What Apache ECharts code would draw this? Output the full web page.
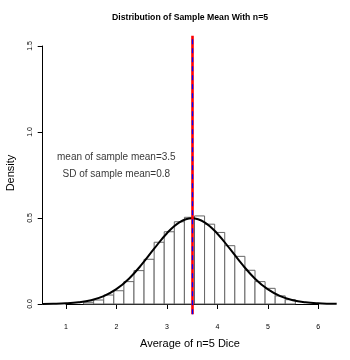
<!DOCTYPE html>
<html>
<head>
<meta charset="utf-8">
<script src="https://cdn.jsdelivr.net/npm/echarts@6/dist/echarts.min.js"></script>
<style>html,body{margin:0;padding:0;background:#fff}#c{width:350px;height:360px}</style>
</head>
<body>
<div id="c"></div>
<script>
// ---- data ----
const binLefts = [1.35,1.55,1.75,1.95,2.15,2.35,2.55,2.75,2.95,3.15,3.35,3.55,3.75,3.95,4.15,4.35,4.55,4.75,4.95,5.15,5.35];
const binWidth = 0.2;
const densities = [0.010,0.023,0.052,0.077,0.130,0.194,0.260,0.359,0.420,0.478,0.504,0.512,0.464,0.416,0.339,0.277,0.196,0.130,0.091,0.047,0.025];
const curveX = [0.54,0.75,1.0,1.25,1.5,1.75,2.0,2.25,2.5,2.75,3.0,3.25,3.5,3.75,4.0,4.25,4.5,4.75,5.0,5.25,5.5,5.75,6.0,6.25,6.37];
const curveY = [0.0005,0.0014,0.0038,0.0096,0.0219,0.0456,0.0860,0.1471,0.2283,0.3214,0.4102,0.4750,0.4987,0.4750,0.4102,0.3214,0.2283,0.1471,0.0860,0.0456,0.0219,0.0096,0.0038,0.0014,0.0008];
const sampleMean = 3.5;
const xTicks = [1, 6, 1];      // min, max, step
const yTicks = [0, 1.5, 0.5];  // min, max, step
const notes = [
  {x: 2.0, y: 0.855, text: 'mean of sample mean=3.5'},
  {x: 2.0, y: 0.755, text: 'SD of sample mean=0.8'}
];
const titleText = 'Distribution of Sample Mean With n=5';
const xLabel = 'Average of n=5 Dice';
const yLabel = 'Density';

const FONT = '"Liberation Sans", Arial, Helvetica, sans-serif';
const chart = echarts.init(document.getElementById('c'), null, {renderer: 'canvas'});

const histData = binLefts.map((l, i) => [l, l + binWidth, densities[i]]);

const option = {
  animation: false,
  backgroundColor: '#fff',
  grid: [
    {left: 42.7, right: 13.3, top: 35.7, bottom: 45.7},
    {left: 66, right: 31.7, top: 46, bottom: 56}
  ],
  xAxis: [
    {type: 'value', gridIndex: 0, min: 0.54, max: 6.37, show: false},
    {type: 'value', gridIndex: 1, min: xTicks[0], max: xTicks[1], interval: xTicks[2],
     position: 'bottom', offset: 10.3,
     axisLine: {show: true, lineStyle: {color: '#000', width: 1}},
     axisTick: {show: true, length: 5, lineStyle: {color: '#000', width: 1}},
     axisLabel: {show: true, margin: 9, fontSize: 7, color: '#000', fontFamily: FONT},
     splitLine: {show: false}}
  ],
  yAxis: [
    {type: 'value', gridIndex: 0, min: -0.06, max: 1.56, show: false},
    {type: 'value', gridIndex: 1, min: yTicks[0], max: yTicks[1], interval: yTicks[2],
     position: 'left', offset: 23.3,
     axisLine: {show: true, lineStyle: {color: '#000', width: 1}},
     axisTick: {show: true, length: 5, lineStyle: {color: '#000', width: 1}},
     axisLabel: {show: true, rotate: 90, margin: 9, fontSize: 7, color: '#000', fontFamily: FONT,
       formatter: v => v.toFixed(1)},
     splitLine: {show: false}}
  ],
  series: [
    {
      type: 'custom', xAxisIndex: 0, yAxisIndex: 0,
      data: histData,
      renderItem: function (params, api) {
        const p0 = api.coord([api.value(0), 0]);
        const p1 = api.coord([api.value(1), api.value(2)]);
        return {
          type: 'rect',
          shape: {x: p0[0], y: p1[1], width: p1[0] - p0[0], height: p0[1] - p1[1]},
          style: {fill: '#fff', stroke: '#666', lineWidth: 1}
        };
      },
      z: 2
    },
    {
      type: 'line', xAxisIndex: 0, yAxisIndex: 0,
      data: curveX.map((x, i) => [x, curveY[i]]),
      smooth: 0.4, symbol: 'none',
      lineStyle: {color: '#000', width: 2},
      z: 3
    },
    {
      type: 'line', xAxisIndex: 0, yAxisIndex: 0, data: [], symbol: 'none', z: 4,
      markLine: {
        silent: true, symbol: 'none', label: {show: false},
        data: [{xAxis: sampleMean}],
        lineStyle: {color: '#ff0000', width: 2.6, type: 'solid'}
      }
    },
    {
      type: 'line', xAxisIndex: 0, yAxisIndex: 0, data: [], symbol: 'none', z: 5,
      markLine: {
        silent: true, symbol: 'none', label: {show: false},
        data: [{xAxis: sampleMean}],
        lineStyle: {color: '#0000ff', width: 1.3, type: [5, 4]}
      }
    },
    {
      type: 'scatter', xAxisIndex: 0, yAxisIndex: 0, symbolSize: 0,
      data: notes.map(n => ({value: [n.x, n.y], name: n.text})),
      label: {show: true, position: 'inside', formatter: p => p.name,
        fontSize: 10, color: '#000', fontFamily: FONT}
    }
  ],
  graphic: [
    {type: 'text', x: 190, y: 18, style: {text: titleText, font: 'bold 8.7px ' + FONT, fill: '#000', align: 'center', verticalAlign: 'middle'}},
    {type: 'text', x: 190, y: 344, style: {text: xLabel, font: '11px ' + FONT, fill: '#000', align: 'center', verticalAlign: 'middle'}},
    {type: 'text', x: 11, y: 173, rotation: Math.PI / 2, style: {text: yLabel, font: '11px ' + FONT, fill: '#000', align: 'center', verticalAlign: 'middle'}}
  ]
};
chart.setOption(option);
</script>
</body>
</html>
